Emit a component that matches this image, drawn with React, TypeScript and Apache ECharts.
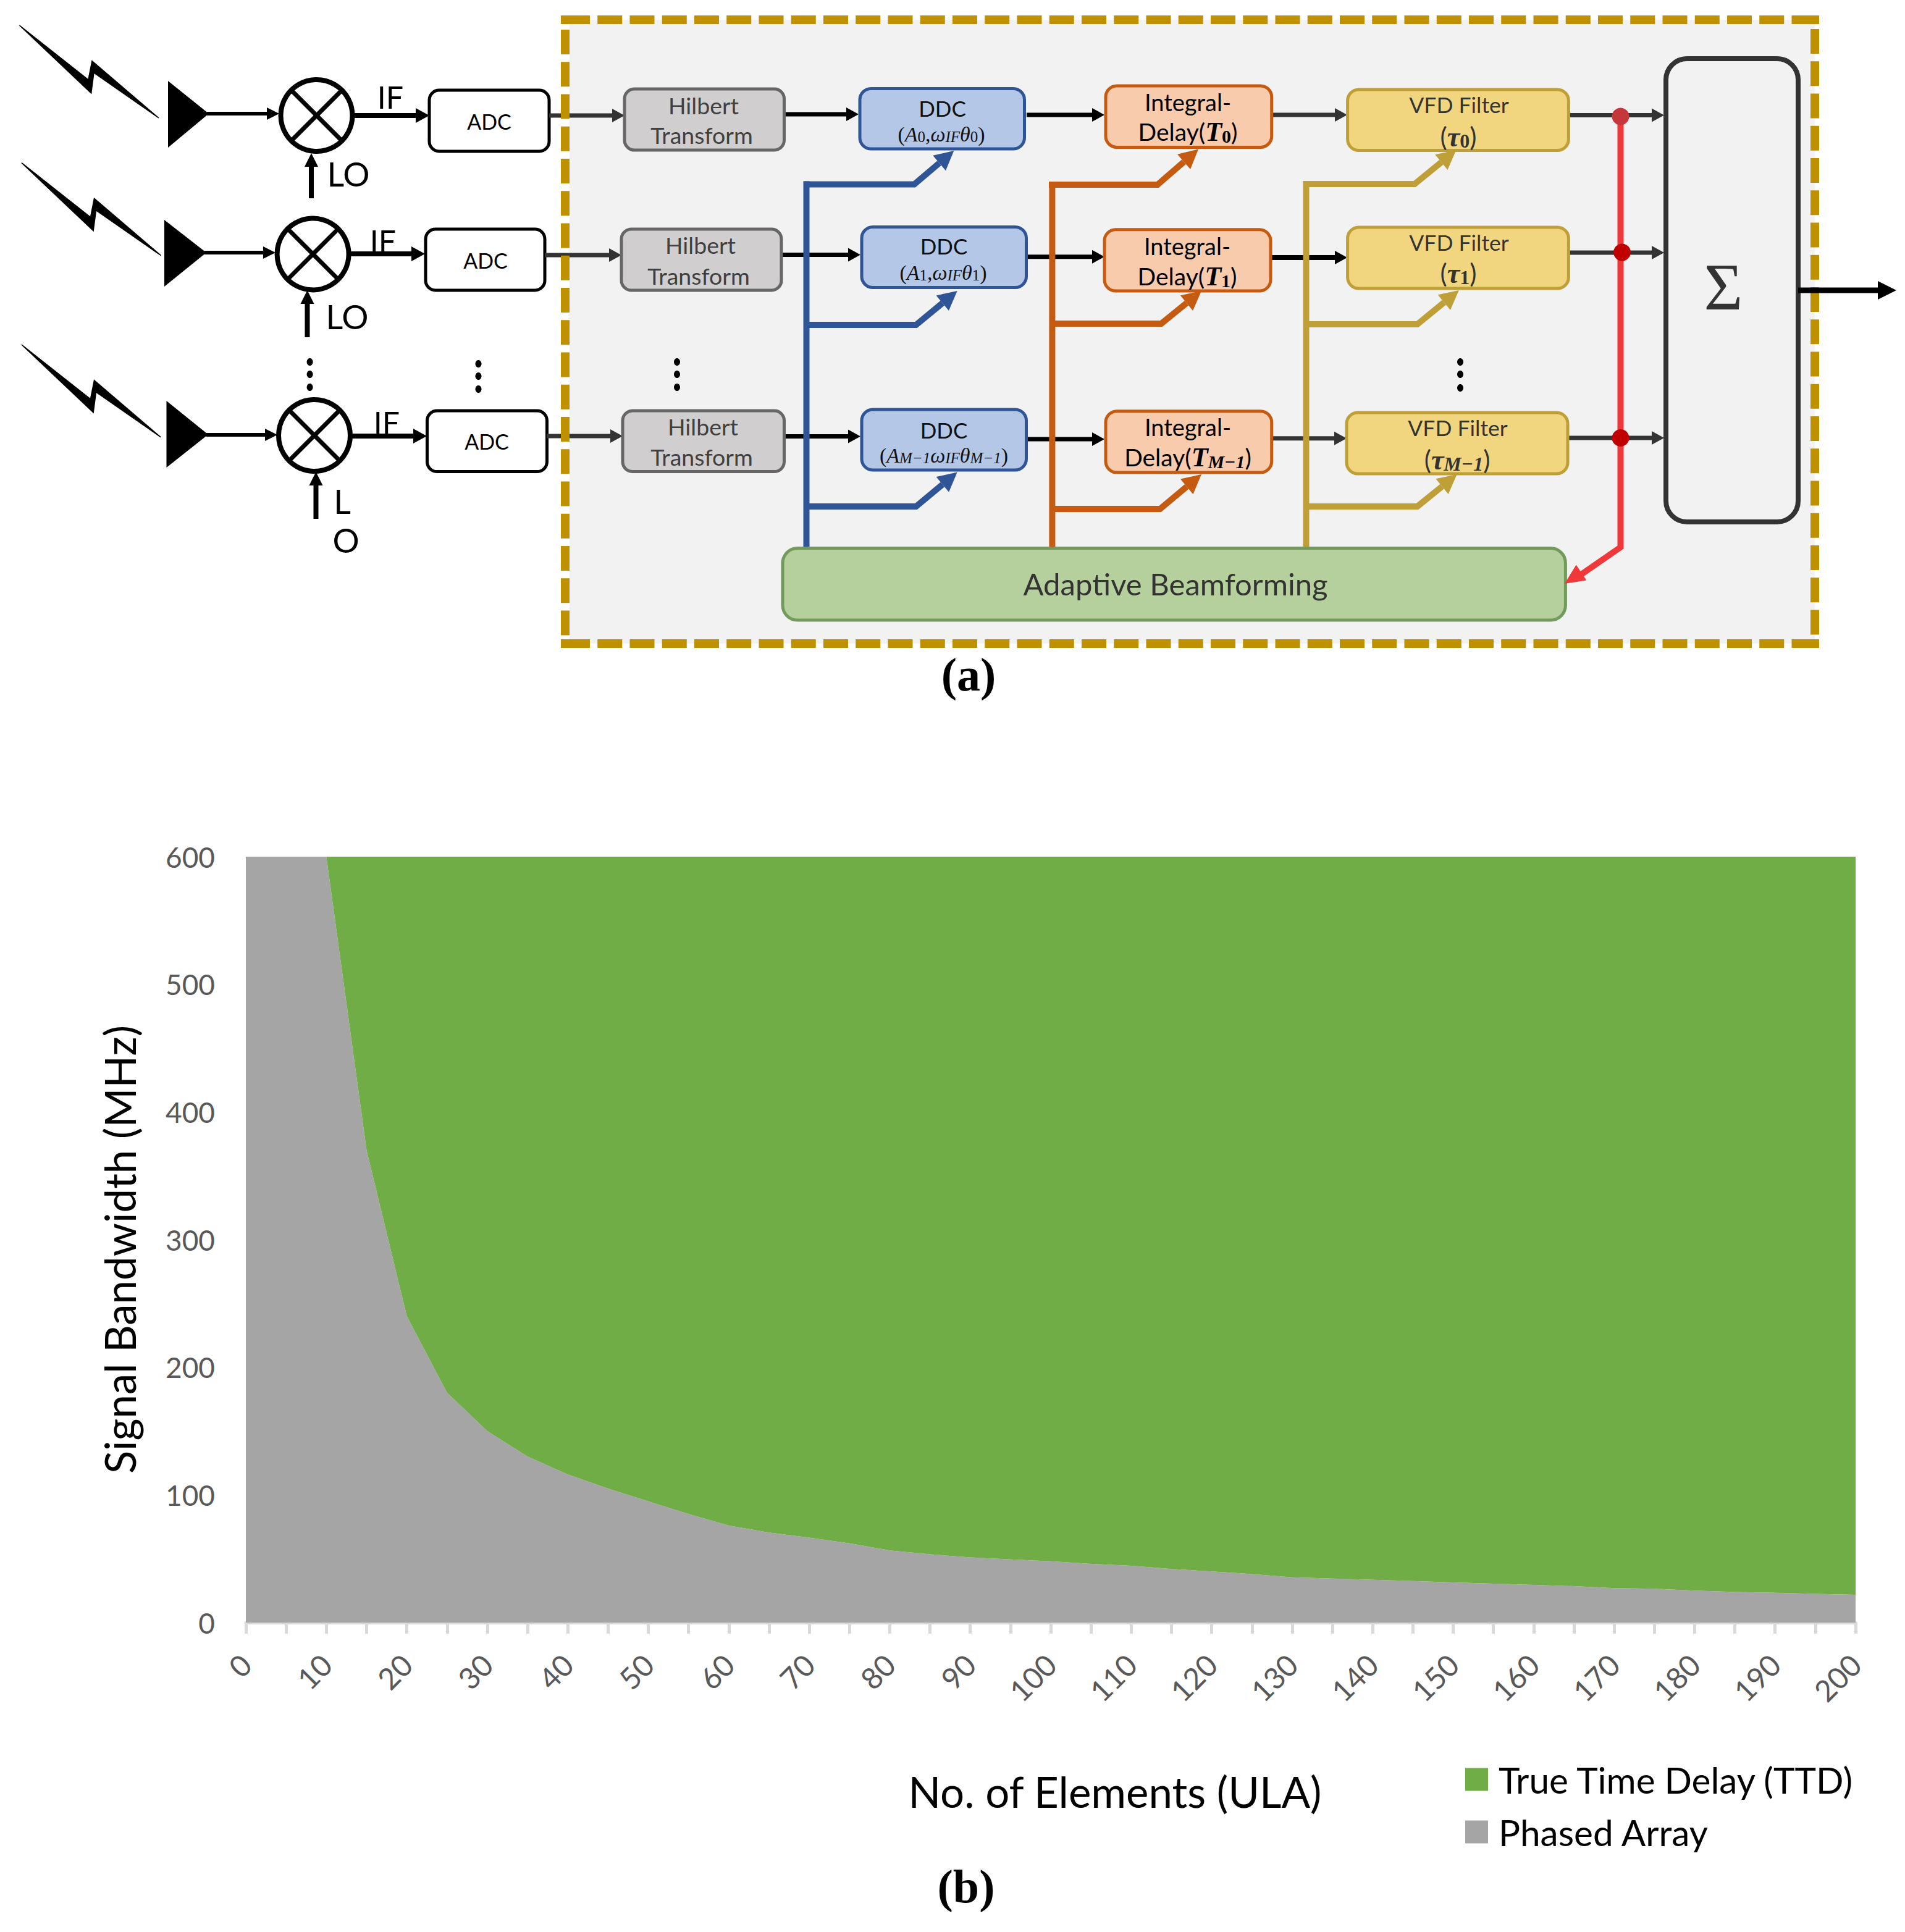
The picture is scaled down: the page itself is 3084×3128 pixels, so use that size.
import React, { useEffect, useRef } from "react";
import * as echarts from "echarts";

// ---- chart values ----
const elementCounts = ["0","5","10","15","20","25","30","35","40","45","50","55","60","65","70","75","80","85","90","95","100","105","110","115","120","125","130","135","140","145","150","155","160","165","170","175","180","185","190","195","200"];
const phasedArray = [600,600,600,370,240,180,150,130,116,105,95,85,76,70.5,66.5,62,56.5,53.5,51,49.5,48,46,44.5,42,40,38,35.5,34.5,33.5,32.5,31.5,30.5,29.5,28.5,27,26.5,25,24,23.3,22.5,21.8];
const trueTimeDelay = [0,0,0,230,360,420,450,470,484,495,505,515,524,529.5,533.5,538,543.5,546.5,549,550.5,552,554,555.5,558,560,562,564.5,565.5,566.5,567.5,568.5,569.5,570.5,571.5,573,573.5,575,576,576.7,577.5,578.2];
const yMax = 600;
const yStep = 100;

const SANS = "Lato";
const SERIF = "Liberation Serif";
const BLUE = "#2f5597", ORANGE = "#c55a11", GOLD = "#bf9f38", DARK = "#333333", BLACK = "#000000", RED = "#f0383a", FRAME = "#bf9000";

const g: any[] = [];

function line(x1: number, y1: number, x2: number, y2: number, w: number, color: string, dash?: number[]) {
  g.push({ type: "line", silent: true, shape: { x1, y1, x2, y2 }, style: { stroke: color, lineWidth: w, ...(dash ? { lineDash: dash } : {}) } });
}
function head(xb: number, yb: number, xt: number, yt: number, half: number, color: string) {
  const dx = xt - xb, dy = yt - yb, n = Math.hypot(dx, dy) || 1;
  const px = (-dy / n) * half, py = (dx / n) * half;
  g.push({ type: "polygon", silent: true, shape: { points: [[xt, yt], [xb + px, yb + py], [xb - px, yb - py]] }, style: { fill: color } });
}
function arrow(x1: number, y1: number, x2: number, y2: number, w: number, color: string, len = 20, half = 11) {
  const dx = x2 - x1, dy = y2 - y1, n = Math.hypot(dx, dy) || 1;
  const xb = x2 - (dx / n) * len, yb = y2 - (dy / n) * len;
  line(x1, y1, xb, yb, w, color);
  head(xb, yb, x2, y2, half, color);
}
function branch(busX: number, y: number, kneeX: number, tipX: number, tipY: number, w: number, color: string) {
  const dx = tipX - kneeX, dy = tipY - y, n = Math.hypot(dx, dy);
  const xb = tipX - (dx / n) * 31, yb = tipY - (dy / n) * 31;
  g.push({ type: "polyline", silent: true, shape: { points: [[busX, y], [kneeX, y], [xb, yb]] }, style: { stroke: color, lineWidth: w, fill: "none" } });
  head(xb, yb, tipX, tipY, 16, color);
}
function box(x0: number, y0: number, x1: number, y1: number, fill: string, stroke: string, w = 5, r = 16) {
  g.push({ type: "rect", silent: true, shape: { x: x0, y: y0, width: x1 - x0, height: y1 - y0, r }, style: { fill, stroke, lineWidth: w } });
}
function text(t: string, x: number, y: number, size: number, color = DARK, extra: any = {}) {
  g.push({
    type: "text", silent: true, x, y,
    style: { text: t, fontSize: size, fontFamily: SANS, fill: color, align: "center", verticalAlign: "middle", textAlign: "center", textVerticalAlign: "middle", ...extra },
  });
}
function dots(x: number, ys: number[]) {
  ys.forEach((y) => g.push({ type: "ellipse", silent: true, shape: { cx: x, cy: y, rx: 5, ry: 6 }, style: { fill: BLACK } }));
}
function lightning(dx: number, dy: number) {
  const p = [[31.5, 41], [147.6, 151], [152, 118], [257, 191], [149, 98.6], [143, 129]];
  g.push({ type: "polygon", silent: true, shape: { points: p.map(([a, b]) => [a + dx, b + dy]) }, style: { fill: BLACK, stroke: BLACK, lineWidth: 1.5 } });
}
function mixer(cx: number, cy: number) {
  g.push({ type: "circle", silent: true, shape: { cx, cy, r: 58 }, style: { fill: "#ffffff", stroke: BLACK, lineWidth: 8 } });
  const d = 41;
  line(cx - d, cy - d, cx + d, cy + d, 7, BLACK);
  line(cx - d, cy + d, cx + d, cy - d, 7, BLACK);
}

const ddcRich = {
  p: { fontFamily: SERIF, fontSize: 34, fill: "#111" },
  i: { fontFamily: SERIF, fontSize: 34, fontStyle: "italic", fill: "#111" },
  s: { fontFamily: SERIF, fontSize: 25, fill: "#111", verticalAlign: "bottom" },
  si: { fontFamily: SERIF, fontSize: 25, fontStyle: "italic", fill: "#111", verticalAlign: "bottom" },
};
const tRich = {
  n: { fontFamily: SANS, fontSize: 39, fill: BLACK },
  T: { fontFamily: SERIF, fontSize: 44, fontStyle: "italic", fontWeight: "bold", fill: BLACK },
  s: { fontFamily: SERIF, fontSize: 30, fontWeight: "bold", fill: BLACK, verticalAlign: "bottom" },
  si: { fontFamily: SERIF, fontSize: 30, fontStyle: "italic", fontWeight: "bold", fill: BLACK, verticalAlign: "bottom" },
};
const tauRich = {
  n: { fontFamily: SANS, fontSize: 42, fill: DARK },
  T: { fontFamily: SERIF, fontSize: 46, fontStyle: "italic", fontWeight: "bold", fill: DARK },
  s: { fontFamily: SERIF, fontSize: 32, fontWeight: "bold", fill: DARK, verticalAlign: "bottom" },
  si: { fontFamily: SERIF, fontSize: 32, fontStyle: "italic", fontWeight: "bold", fill: DARK, verticalAlign: "bottom" },
};
function rich(t: string, r: any, x: number, y: number) {
  g.push({ type: "text", silent: true, x, y, style: { text: t, rich: r, align: "center", verticalAlign: "middle", textAlign: "center", textVerticalAlign: "middle" } });
}

// panel background
g.push({ type: "rect", silent: true, shape: { x: 922, y: 32, width: 2016, height: 1010 }, style: { fill: "#f2f2f2" } });

// left part: receiver chains
lightning(0, 0); lightning(3.5, 222.6); lightning(3.5, 517);
const tris = [[272, 131, 239, 338, 184], [266, 356, 464, 334, 409], [269.5, 649, 757, 337, 703.6]];
tris.forEach(([x, y0, y1, tx, ty]) => g.push({ type: "polygon", silent: true, shape: { points: [[x, y0], [x, y1], [tx, ty]] }, style: { fill: BLACK } }));
arrow(335, 184, 452, 184, 6, BLACK, 20, 10);
arrow(331, 409, 446, 409, 6, BLACK, 20, 10);
arrow(334, 704, 449, 704, 6, BLACK, 20, 10);
mixer(512.5, 187); mixer(506.6, 411.4); mixer(509, 705);
arrow(570, 187, 695, 187, 8, BLACK, 22, 12);
arrow(565, 411, 688, 411, 8, BLACK, 22, 12);
arrow(568, 706, 691, 706, 8, BLACK, 22, 12);
arrow(504, 321, 504, 248, 8, BLACK, 22, 11);
arrow(497.5, 546, 497.5, 470, 8, BLACK, 22, 11);
arrow(511.5, 840, 511.5, 764, 8, BLACK, 22, 11);
text("IF", 632, 157, 50, BLACK);
text("IF", 620, 390, 50, BLACK);
text("IF", 626, 684, 50, BLACK);
text("LO", 564, 281, 54, BLACK);
text("LO", 562, 512, 54, BLACK);
text("L", 554, 811, 54, BLACK);
text("O", 560, 874, 54, BLACK);
box(695, 146, 889, 245, "#ffffff", BLACK, 5);
box(689, 371, 882, 470, "#ffffff", BLACK, 5);
box(691.5, 665, 885.5, 763.6, "#ffffff", BLACK, 5);
text("ADC", 792, 196, 34, BLACK);
text("ADC", 786, 421, 34, BLACK);
text("ADC", 788, 714, 34, BLACK);
dots(501.6, [586, 606, 627]);
dots(774.5, [589, 609, 630]);
dots(1096, [586, 606, 627]);
dots(2364, [586, 606, 628]);

// row arrows inside the panel
arrow(889, 187, 1011, 187, 7, DARK);
arrow(882, 413, 1006, 413, 7, DARK);
arrow(885, 706, 1008, 706, 7, DARK);
arrow(1269, 185, 1390, 185, 7, BLACK);
arrow(1265, 412.5, 1393, 412.5, 7, BLACK);
arrow(1269, 706.5, 1393, 706.5, 7, BLACK);
arrow(1662, 186, 1788, 186, 7, BLACK);
arrow(1664, 415.7, 1788, 415.7, 7, BLACK);
arrow(1664, 711, 1788, 711, 7, BLACK);
arrow(2058, 186, 2181, 186, 7, DARK);
arrow(2057, 417, 2181, 417, 8, BLACK);
arrow(2058, 709.7, 2180, 709.7, 7, DARK);
arrow(2539, 186.6, 2694, 186.6, 7, DARK);
arrow(2539, 409, 2694, 409, 7, DARK);
arrow(2538, 709, 2694, 709, 7, DARK);

// Hilbert
box(1011, 144, 1269.5, 243, "#d0cece", "#666666");
box(1006, 371, 1265, 470, "#d0cece", "#666666");
box(1008, 665, 1269.5, 763.6, "#d0cece", "#666666");
[[1139, 170, 1136, 218], [1134, 396, 1131, 446], [1138, 690, 1136, 739]].forEach(([a, b, c, d]) => {
  text("Hilbert", a, b, 37.5, "#404040");
  text("Transform", c, d, 37.5, "#404040");
});

// DDC
box(1392, 143.5, 1658.5, 241, "#b4c7e7", BLUE, 5, 18);
box(1395, 367.5, 1661.5, 465.5, "#b4c7e7", BLUE, 5, 18);
box(1395, 663, 1661.5, 761, "#b4c7e7", BLUE, 5, 18);
text("DDC", 1525.5, 174.5, 35, "#111111");
text("DDC", 1528, 398, 35, "#111111");
text("DDC", 1528, 696, 35, "#111111");
rich("{p|(}{i|A}{s|0}{p|,}{i|ω}{si|IF}{i|θ}{s|0}{p|)}", ddcRich, 1524, 217);
rich("{p|(}{i|A}{s|1}{p|,}{i|ω}{si|IF}{i|θ}{s|1}{p|)}", ddcRich, 1527, 441);
rich("{p|(}{i|A}{si|M−1}{i|ω}{si|IF}{i|θ}{si|M−1}{p|)}", ddcRich, 1528, 737);

// Integral-Delay
box(1790, 139, 2058.7, 238.4, "#f8cbad", ORANGE, 5, 18);
box(1788, 371.7, 2057, 471, "#f8cbad", ORANGE, 5, 18);
box(1790, 665.7, 2058.7, 765, "#f8cbad", ORANGE, 5, 18);
text("Integral-", 1923, 165, 38, BLACK);
text("Integral-", 1922, 398, 38, BLACK);
text("Integral-", 1923, 691, 38, BLACK);
rich("{n|Delay(}{T|T}{s|0}{n|)}", tRich, 1923, 213);
rich("{n|Delay(}{T|T}{s|1}{n|)}", tRich, 1922, 447);
rich("{n|Delay(}{T|T}{si|M−1}{n|)}", tRich, 1923, 740);

// VFD
box(2181.6, 145, 2539.4, 243.6, "#f1d67f", GOLD, 5, 18);
box(2181.6, 368, 2539.4, 467, "#f1d67f", GOLD, 5, 18);
box(2180, 668, 2538, 767, "#f1d67f", GOLD, 5, 18);
text("VFD Filter", 2362, 169, 35.5);
text("VFD Filter", 2362, 392, 35.5);
text("VFD Filter", 2360, 692, 35.5);
rich("{n|(}{T|τ}{s|0}{n|)}", tauRich, 2361, 221);
rich("{n|(}{T|τ}{s|1}{n|)}", tauRich, 2361, 442);
rich("{n|(}{T|τ}{si|M−1}{n|)}", tauRich, 2359, 744);

// buses
line(1305.5, 293.5, 1305.5, 889.5, 10, BLUE);
branch(1301, 298.5, 1480, 1544.3, 244, 10, BLUE);
branch(1305, 526, 1483, 1549.7, 471, 10, BLUE);
branch(1305, 820, 1483, 1549.7, 764.5, 10, BLUE);
line(1703.4, 294.5, 1703.4, 889.5, 10, ORANGE);
branch(1698, 299, 1874, 1940, 241.6, 10, ORANGE);
branch(1703, 524, 1880, 1945, 471, 10, ORANGE);
branch(1703, 824, 1878, 1945, 768, 10, ORANGE);
line(2114.5, 293, 2114.5, 889.5, 10, GOLD);
branch(2110, 298, 2290, 2357.4, 243, 10, GOLD);
branch(2114, 525, 2294.6, 2361.8, 470, 10, GOLD);
branch(2114, 820, 2294.6, 2358.6, 768, 10, GOLD);

// Adaptive beamforming
box(1267, 887.6, 2534.4, 1004, "#b5d09c", "#739a5d", 5, 24);
text("Adaptive Beamforming", 1903, 945, 49);

// red feedback
g.push({ type: "polyline", silent: true, shape: { points: [[2623.5, 188], [2623.5, 886], [2557, 932]] }, style: { stroke: RED, lineWidth: 10, fill: "none" } });
head(2560, 927, 2533, 945, 15, RED);
g.push({ type: "circle", silent: true, shape: { cx: 2623.5, cy: 188.6, r: 14 }, style: { fill: "#c5373a" } });
g.push({ type: "circle", silent: true, shape: { cx: 2626, cy: 408.6, r: 14 }, style: { fill: "#c00000" } });
g.push({ type: "circle", silent: true, shape: { cx: 2623.5, cy: 709, r: 14 }, style: { fill: "#c00000" } });

// sum box
box(2697, 95, 2911, 845, "none", "#333333", 8, 34);
text("Σ", 2790, 464, 108, "#333333", { fontFamily: SERIF });

// dashed frame: one line per side so that each side starts where the reference does
const dash = [40, 12.25];
line(915, 32, 2938, 32, 14, FRAME, dash);
line(908, 32, 916, 32, 14, FRAME);
line(2938, 32, 2945, 32, 14, FRAME);
line(915, 48, 915, 1034, 14, FRAME, dash);
line(2938, 47, 2938, 1034, 14, FRAME, dash);
line(915, 1042, 2938, 1042, 14, FRAME, dash);
line(908, 1042, 916, 1042, 14, FRAME);
line(2938, 1042, 2945, 1042, 14, FRAME);
arrow(2911, 470, 3070, 470, 9, BLACK, 30, 15);

// captions
text("(a)", 1568, 1092, 76, BLACK, { fontFamily: SERIF, fontWeight: "bold" });
text("(b)", 1564, 3054, 76, BLACK, { fontFamily: SERIF, fontWeight: "bold" });

export default function App() {
  const ref = useRef<HTMLDivElement>(null);
  useEffect(() => {
    const chart = echarts.init(ref.current!, undefined, { renderer: "svg" });
    chart.setOption({
      animation: false,
      backgroundColor: "#ffffff",
      grid: { left: 398, top: 1387, width: 2606, height: 1240, containLabel: false },
      legend: {
        orient: "vertical", left: 2372, top: 2851, padding: 0, itemWidth: 37, itemHeight: 37, itemGap: 25, icon: "rect",
        data: ["True Time Delay (TTD)", "Phased Array"],
        textStyle: { fontFamily: SANS, fontSize: 58.5, lineHeight: 60, color: "#000000", padding: [0, 0, 0, 12] },
      },
      xAxis: {
        type: "category", boundaryGap: false, data: elementCounts, offset: 2.5,
        axisLine: { show: true, lineStyle: { color: "#d9d9d9", width: 5 } },
        axisTick: { show: true, interval: 0, length: 18, lineStyle: { color: "#d9d9d9", width: 5 } },
        axisLabel: { interval: 1, rotate: 45, margin: 57, fontFamily: SANS, fontSize: 48, color: "#595959" },
        splitLine: { show: false },
        name: "No. of Elements (ULA)", nameLocation: "middle", nameGap: 236,
        nameTextStyle: { fontFamily: SANS, fontSize: 69, color: "#000000", padding: [0, 0, 0, 208] },
      },
      yAxis: {
        type: "value", min: 0, max: yMax, interval: yStep,
        axisLine: { show: false }, axisTick: { show: false }, splitLine: { show: false },
        axisLabel: { margin: 50, fontFamily: SANS, fontSize: 46, color: "#595959" },
        name: "Signal Bandwidth (MHz)", nameLocation: "middle", nameGap: 170,
        nameTextStyle: { fontFamily: SANS, fontSize: 69, color: "#000000", padding: [0, 32, 0, 0] },
      },
      series: [
        { name: "Phased Array", type: "line", stack: "a", data: phasedArray, showSymbol: false, symbol: "none", lineStyle: { width: 0 }, itemStyle: { color: "#a5a5a5" }, areaStyle: { color: "#a5a5a5", opacity: 1 } },
        { name: "True Time Delay (TTD)", type: "line", stack: "a", data: trueTimeDelay, showSymbol: false, symbol: "none", lineStyle: { width: 0 }, itemStyle: { color: "#70ad47" }, areaStyle: { color: "#70ad47", opacity: 1 } },
      ],
      graphic: { elements: g },
    });
    return () => chart.dispose();
  }, []);
  return <div ref={ref} style={{ position: "absolute", left: 0, top: 0, width: 3084, height: 3128 }} />;
}
